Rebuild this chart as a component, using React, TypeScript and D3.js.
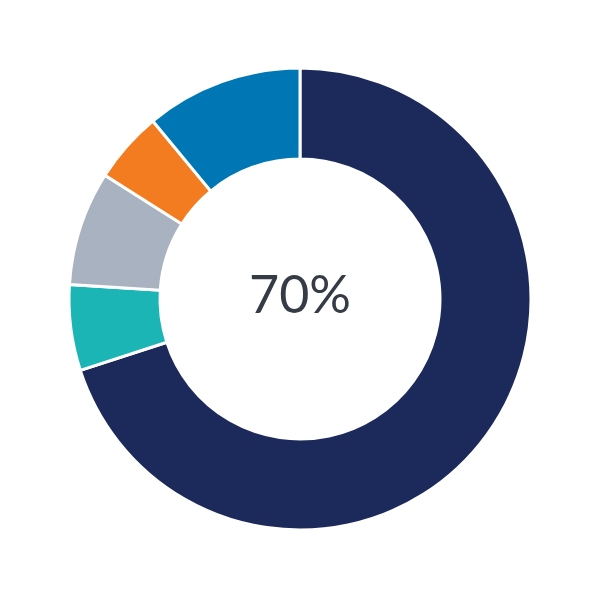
import { useMemo } from "react";
import * as d3 from "d3";

const categories = ["Navy", "Teal", "Gray", "Orange", "Blue"];
const values = [70, 6, 8, 5, 11];
const colors = ["#1b2a5a", "#1bb5b5", "#a8b2c0", "#f37c20", "#0077b5"];
const centerLabel = "70%";

const WIDTH = 600;
const HEIGHT = 599;
const OUTER = 231;
const INNER = 140;

export default function App() {
  const data = categories.map((name, i) => ({ name, value: values[i] }));

  const arcs = useMemo(() => {
    const pie = d3.pie<{ name: string; value: number }>().value((d) => d.value).sort(null);
    const arc = d3.arc<d3.PieArcDatum<{ name: string; value: number }>>()
      .innerRadius(INNER)
      .outerRadius(OUTER);
    return pie(data).map((p) => arc(p));
  }, []);

  return (
    <svg
      width={WIDTH}
      height={HEIGHT}
      style={{ position: "absolute", left: 0, top: 0, background: "#fff" }}
    >
      <g transform={`translate(300, 299)`}>
        {arcs.map((d, i) => (
          <path key={i} d={d || ""} fill={colors[i]} stroke="#fff" strokeWidth={3} />
        ))}
        <text
          x={0}
          y={14}
          textAnchor="middle"
          fontFamily="Lato"
          fontWeight={400}
          fontSize={52}
          fill="#363c46"
        >
          {centerLabel}
        </text>
      </g>
    </svg>
  );
}
